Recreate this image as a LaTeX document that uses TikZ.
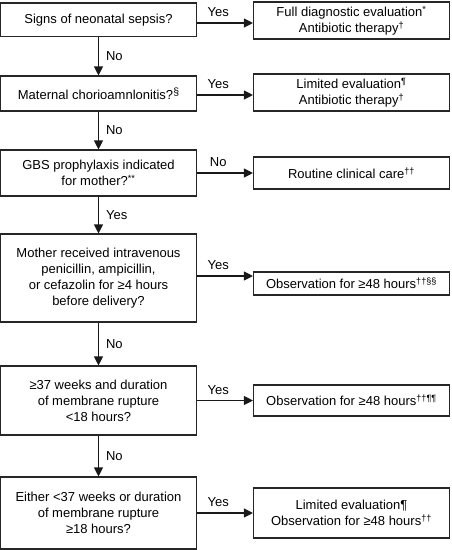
\documentclass[tikz,border=0pt]{standalone}
\usepackage{fontspec}
\setmainfont{Liberation Sans}
\usetikzlibrary{arrows.meta}
\begin{document}
\begin{tikzpicture}[x=1pt,y=-1pt,
  box/.style={draw=black!85, line width=1.1pt, align=center, inner sep=0pt,
    font=\fontsize{13}{16}\selectfont, minimum width=196pt},
  arr/.style={-{Triangle[length=9pt,width=9pt]}, line width=1.1pt, draw=black!90},
  lab/.style={font=\fontsize{13}{16}\selectfont, inner sep=0pt}]
\useasboundingbox (0,0) rectangle (451,550);
% left column
\node[box, minimum height=33.5pt] (L1) at (98.5,19.75) {Signs of neonatal sepsis?};
\node[box, minimum height=35pt] (L2) at (98.5,93.5) {Maternal chorioamnlonitis?\raisebox{4pt}{\fontsize{10.5}{10.5}\selectfont §}};
\node[box, minimum height=46pt] (L3) at (98.5,173) {GBS prophylaxis indicated\\for mother?\textsuperscript{**}};
\node[box, minimum height=88pt] (L4) at (98.5,278) {Mother received intravenous\\penicillin, ampicillin,\\or cefazolin for ≥4 hours\\before delivery?};
\node[box, minimum height=69pt] (L5) at (98.5,400.5) {≥37 weeks and duration\\of membrane rupture\\<18 hours?};
\node[box, minimum height=72pt] (L6) at (98.5,513) {Either <37 weeks or duration\\of membrane rupture\\≥18 hours?};
% right column
\node[box, minimum height=37pt] (R1) at (351.5,20.5) {Full diagnostic evaluation\textsuperscript{*}\\Antibiotic therapy\textsuperscript{†}};
\node[box, minimum height=37pt] (R2) at (351.5,92.5) {Limited evaluation\textsuperscript{¶}\\Antibiotic therapy\textsuperscript{†}};
\node[box, minimum height=32pt] (R3) at (351.5,173) {Routine clinical care\textsuperscript{††}};
\node[box, minimum height=23pt] (R4) at (351.5,283.5) {Observation for ≥48 hours\textsuperscript{††§§}};
\node[box, minimum height=31pt] (R5) at (351.5,400.5) {Observation for ≥48 hours\textsuperscript{††¶¶}};
\node[box, minimum height=50pt] (R6) at (351.5,513) {Limited evaluation¶\\Observation for ≥48 hours\textsuperscript{††}};
% horizontal connectors
\coordinate (a1) at ([yshift=-3.25pt]L1.east);
\coordinate (a2) at ([yshift=-1.5pt]L2.east);
\coordinate (a3) at (L3.east);
\coordinate (a4) at ([yshift=2pt]L4.east);
\coordinate (a5) at (L5.east);
\coordinate (a6) at (L6.east);
\draw[arr] (a1) -- node[lab, pos=0.38, above=5.5pt] {Yes} (a1 -| R1.west);
\draw[arr] (a2) -- node[lab, pos=0.38, above=5.5pt] {Yes} (a2 -| R2.west);
\draw[arr] (a3) -- node[lab, pos=0.38, above=5.5pt] {No} (a3 -| R3.west);
\draw[arr] (a4) -- node[lab, pos=0.38, above=5.5pt] {Yes} (a4 -| R4.west);
\draw[arr] (a5) -- node[lab, pos=0.38, above=5.5pt] {Yes} (a5 -| R5.west);
\draw[arr] (a6) -- node[lab, pos=0.38, above=5.5pt] {Yes} (a6 -| R6.west);
% vertical connectors
\draw[arr] (L1.south) -- node[lab, right=7pt] {No} (L2.north);
\draw[arr] (L2.south) -- node[lab, right=7pt] {No} (L3.north);
\draw[arr] (L3.south) -- node[lab, right=7pt] {Yes} (L4.north);
\draw[arr] (L4.south) -- node[lab, right=7pt] {No} (L5.north);
\draw[arr] (L5.south) -- node[lab, right=7pt] {No} (L6.north);
\end{tikzpicture}
\end{document}
